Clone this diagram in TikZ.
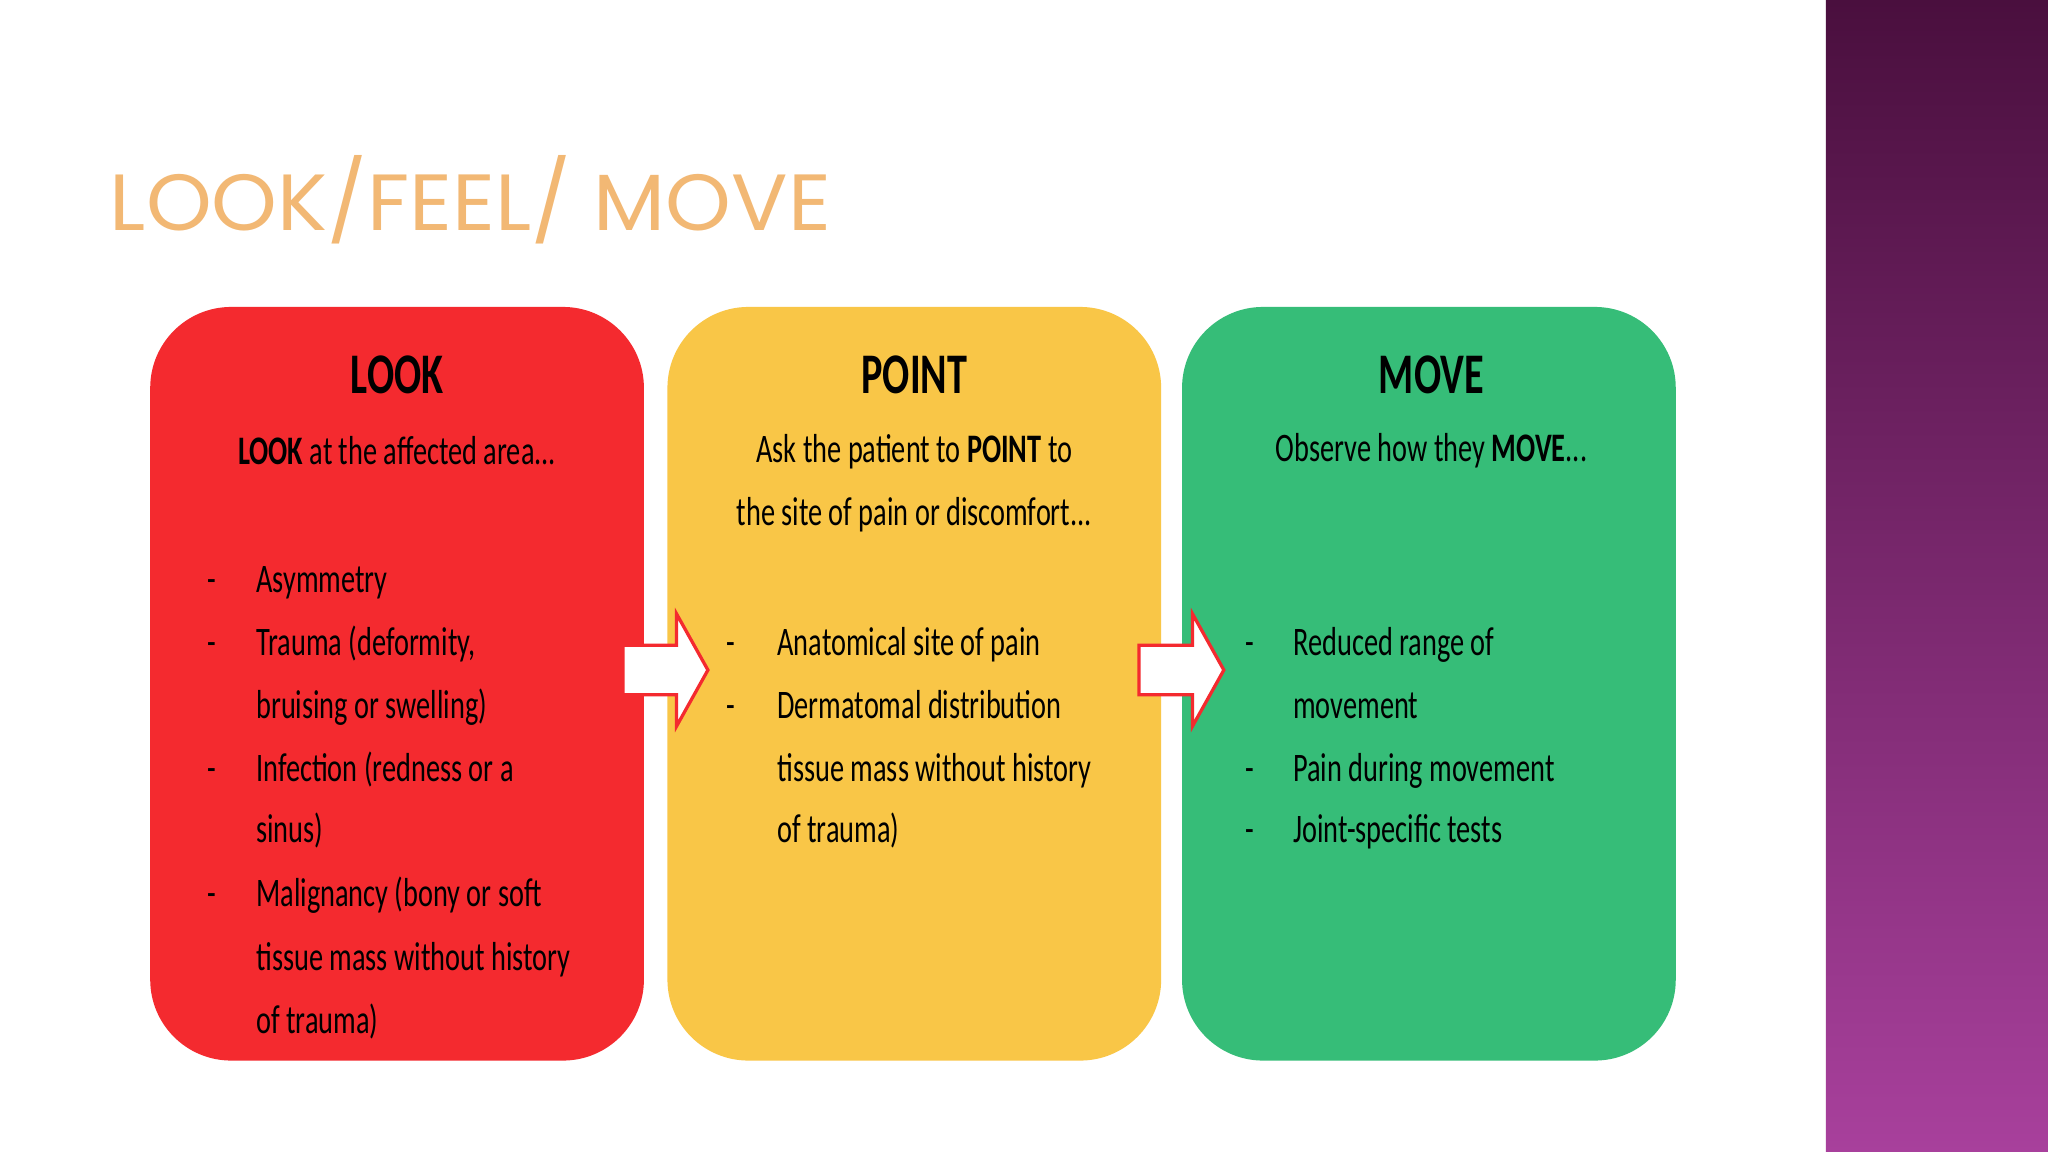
\documentclass[tikz,border=0pt]{standalone}
\usepackage{fontspec}
\setmainfont{Carlito}[FakeStretch=0.7]
\newfontfamily\titlefont{Poppins}[FakeStretch=1.05]
\definecolor{boxred}{HTML}{F42A2F}
\definecolor{boxyel}{HTML}{F9C647}
\definecolor{boxgrn}{HTML}{36BD78}
\definecolor{ttl}{HTML}{F2B874}
\definecolor{purtop}{HTML}{4A0F3E}
\definecolor{purbot}{HTML}{A8409C}
\begin{document}
\begin{tikzpicture}[x=1pt,y=-1pt,
  panel/.style={rounded corners=62pt},
  head/.style={font=\fontsize{44}{48}\selectfont\bfseries,text=black},
  sub/.style={font=\fontsize{31}{36}\selectfont,text=black},
  item/.style={font=\fontsize{31}{36}\selectfont,text=black,anchor=base west,inner sep=0pt},
  flow/.style={draw=boxred,fill=white,line width=2.5pt,line join=miter}]
\useasboundingbox (0,0) rectangle (1568,882);
\fill[white] (0,0) rectangle (1398,882);
\shade[top color=purtop,bottom color=purbot] (1398,0) rectangle (1568,882);
\node[anchor=west,inner sep=0pt,font=\titlefont\fontsize{61}{64}\selectfont,text=ttl] (title) at (84,153) {LOOK/FEEL/ MOVE};
% panels
\fill[boxred,panel] (115,235) rectangle (493,812);
\fill[boxyel,panel] (511,235) rectangle (889,812);
\fill[boxgrn,panel] (905,235) rectangle (1283,812);
% arrows
\coordinate (a1) at (477,513);
\coordinate (a2) at (872,513);
\foreach \a in {a1,a2}{
  \draw[flow] ([shift={(0,-19)}]\a) -- ++(41,0) -- ++(0,-24) -- ++(24,43) -- ++(-24,43) -- ++(0,-24) -- ++(-41,0) -- cycle;
}
% LOOK
\node[head] (h1) at (304,287) {LOOK};
\node[sub] (s1) at (304,345) {\textbf{LOOK} at the affected area...};
\foreach \y/\t/\b [count=\i] in {443/Asymmetry/1,491/{Trauma (deformity,}/1,539/{bruising or swelling)}/0,587/{Infection (redness or a}/1,634/{sinus)}/0,683/{Malignancy (bony or soft}/1,732/{tissue mass without history}/0,780/{of trauma)}/0}{
  \node[item] (r\i) at (196,\y+11) {\t};
  \ifnum\b=1 \node[item] (rb\i) at (159,\y+11) {-};\fi
}
% POINT
\node[head] (h2) at (700,287) {POINT};
\node[sub,align=center] (s2) at (700,370) {Ask the patient to \textbf{POINT} to\\[12pt]the site of pain or discomfort...};
\foreach \y/\t/\b [count=\i] in {491/{Anatomical site of pain}/1,539/{Dermatomal distribution}/1,587/{tissue mass without history}/0,634/{of trauma)}/0}{
  \node[item] (y\i) at (595,\y+11) {\t};
  \ifnum\b=1 \node[item] (yb\i) at (556,\y+11) {-};\fi
}
% MOVE
\node[head] (h3) at (1096,287) {MOVE};
\node[sub] (s3) at (1096,345) {Observe how they \textbf{MOVE}...};
\foreach \y/\t/\b [count=\i] in {491/{Reduced range of}/1,539/{movement}/0,587/{Pain during movement}/1,634/{Joint-specific tests}/1}{
  \node[item] (g\i) at (990,\y+11) {\t};
  \ifnum\b=1 \node[item] (gb\i) at (953,\y+11) {-};\fi
}
\end{tikzpicture}
\end{document}
